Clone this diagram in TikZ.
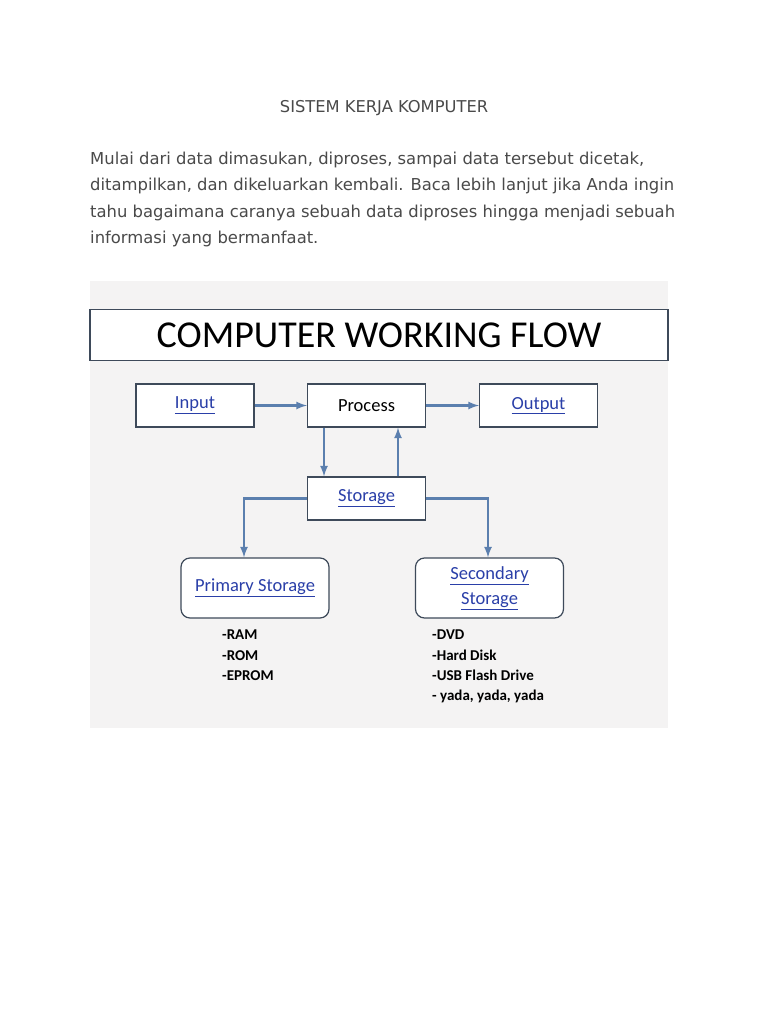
\documentclass[tikz,border=0pt]{standalone}
\usepackage{fontspec}
\setmainfont{DejaVu Sans}
\newfontfamily\calib{Carlito}
\usetikzlibrary{positioning}
\definecolor{flowblue}{HTML}{5B7FAE}
\definecolor{linkblue}{HTML}{2A3FA8}
\definecolor{pagegray}{HTML}{4A4A4A}
\definecolor{panelgray}{HTML}{F4F3F3}
\definecolor{boxline}{HTML}{3E4A5A}
\tikzset{
  flowbox/.style={draw=boxline,fill=white,line width=1.2pt,minimum width=118pt,minimum height=43pt,inner sep=0pt,font=\calib\fontsize{18.5}{22}\selectfont},
  storebox/.style={flowbox,rounded corners=9pt,minimum width=148pt,minimum height=60pt,align=center},
  flow/.style={->,draw=flowblue,line width=2.6pt,>=latex},
  listtext/.style={anchor=north west,align=left,inner sep=0pt,font=\calib\bfseries\fontsize{15}{20.3}\selectfont}
}
\newcommand{\lnk}[1]{\textcolor{linkblue}{\underline{#1}}}
\begin{document}
\begin{tikzpicture}[x=1pt,y=-1pt]
\useasboundingbox[fill=white] (0,0) rectangle (768,1024);
\node[text=pagegray,font=\fontsize{16.3}{19}\selectfont] (head) at (384,108) {SISTEM KERJA KOMPUTER};
\node[text=pagegray,anchor=north west,align=left,inner sep=0pt,font=\fontsize{16.4}{26.3}\selectfont] (para) at (90,152)
 {Mulai dari data dimasukan, diproses, sampai data tersebut dicetak,\\ditampilkan, dan dikeluarkan kembali. Baca lebih lanjut jika Anda ingin\\tahu bagaimana caranya sebuah data diproses hingga menjadi sebuah\\informasi yang bermanfaat.};
\fill[panelgray] (90,281) rectangle (668,728);
\node[draw=boxline,fill=white,line width=1.2pt,minimum width=578pt,minimum height=51pt,inner sep=0pt,font=\calib\fontsize{38}{42}\selectfont] (title) at (379,335) {COMPUTER WORKING FLOW};
\node[flowbox] (input) at (195,405.5) {\lnk{Input}};
\node[flowbox] (process) at (366.5,405.5) {Process};
\node[flowbox] (output) at (538.5,405.5) {\lnk{Output}};
\node[flowbox] (storage) at (366.5,498.5) {\lnk{Storage}};
\node[storebox] (primary) at (255,588) {\lnk{Primary Storage}};
\node[storebox] (secondary) at (489.5,588) {\lnk{Secondary}\\[3pt]\lnk{Storage}};
\node[listtext] (plist) at (222,630) {-RAM\\-ROM\\-EPROM};
\node[listtext] (slist) at (432,630) {-DVD\\-Hard Disk\\-USB Flash Drive\\- yada, yada, yada};
\draw[flow] (input) -- (process);
\draw[flow] (process) -- (output);
\draw[flow] (process.south -| 324,0) -- (storage.north -| 324,0);
\draw[flow] (storage.north -| 398,0) -- (process.south -| 398,0);
\draw[flow] (storage.west) -| (primary.north -| 244,0);
\draw[flow] (storage.east) -| (secondary.north -| 488,0);
\end{tikzpicture}
\end{document}
